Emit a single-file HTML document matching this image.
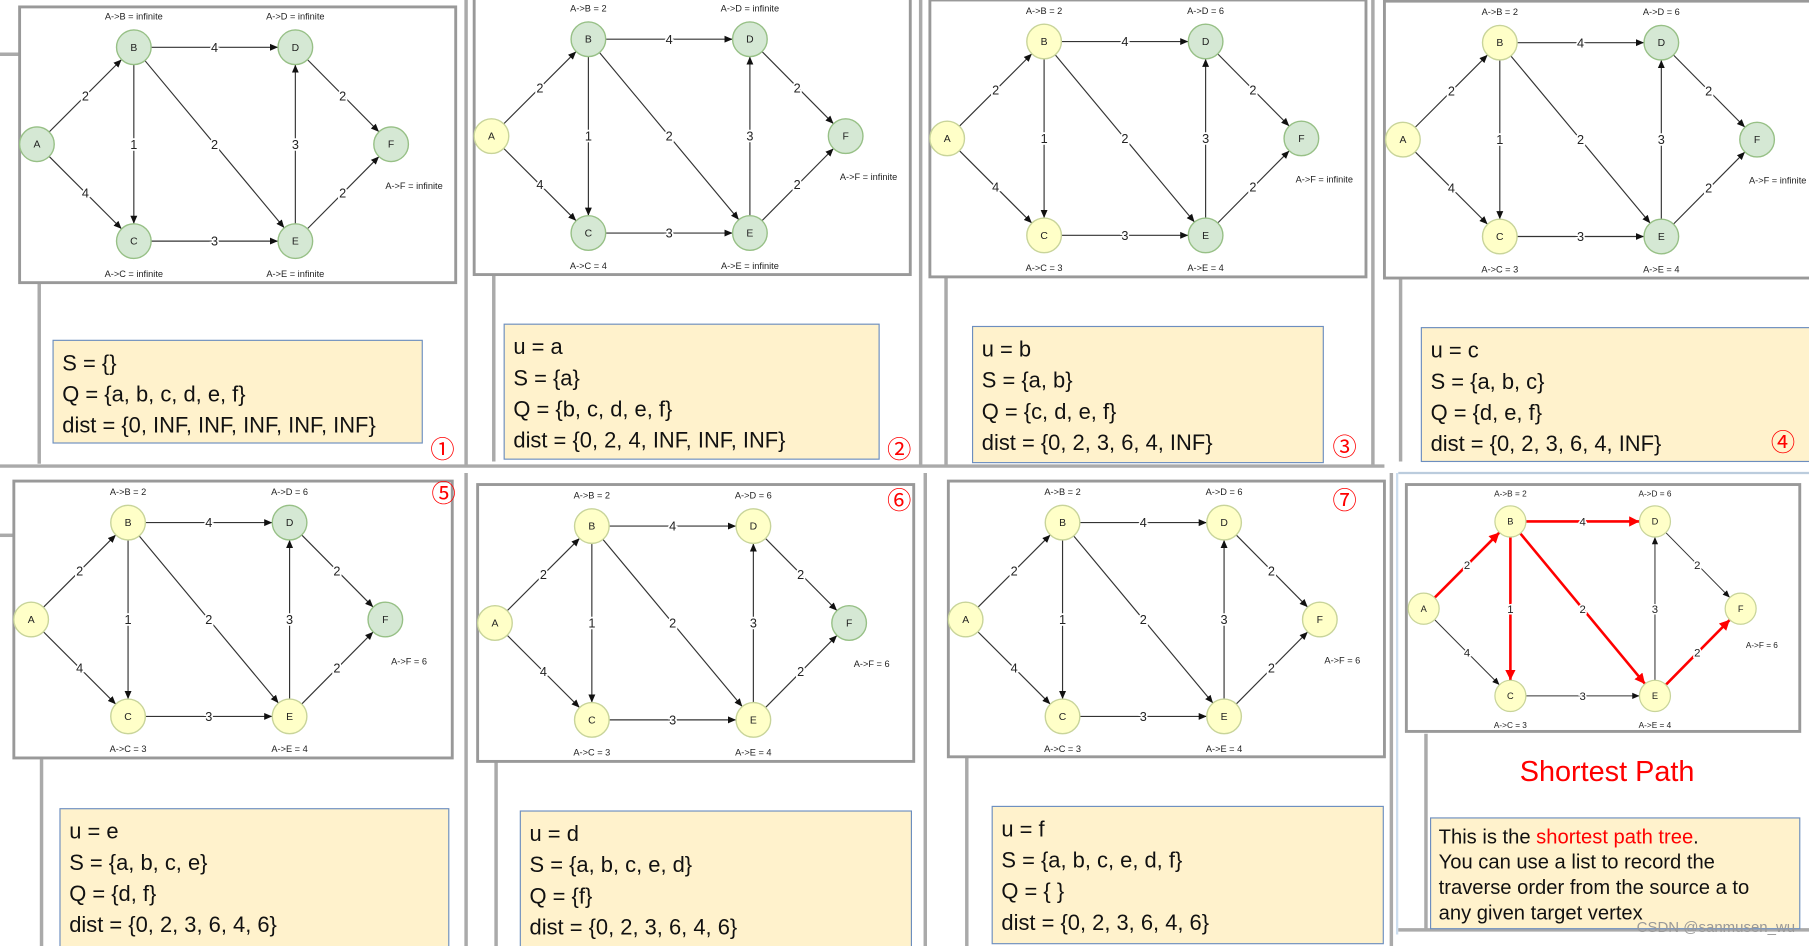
<!DOCTYPE html>
<html><head><meta charset="utf-8"><style>
html,body{margin:0;padding:0;background:#fff;width:1809px;height:946px;overflow:hidden}
svg{display:block}
.e{stroke:#333;stroke-width:1;marker-end:url(#ak)}
.r{stroke:#f00;stroke-width:2.5;marker-end:url(#ar)}
.w{font:11px "Liberation Sans",sans-serif;text-anchor:middle;fill:#222;paint-order:stroke;stroke:#fff;stroke-width:3}
.n{font:9px "Liberation Sans",sans-serif;text-anchor:middle;fill:#222}
.l{font:8px "Liberation Sans",sans-serif;text-anchor:middle;fill:#222}
.lf{font:8px "Liberation Sans",sans-serif;fill:#222}
.g{fill:#d5e8d4;stroke:#97c086;stroke-width:1.2}
.y{fill:#ffffc8;stroke:#c8d49a;stroke-width:1.2}
.box{fill:#fff;stroke:#999;stroke-width:2.5}
.tb{fill:#fff2cc;stroke:#6c8ebf;stroke-width:1}
.t{font:19px "Liberation Sans",sans-serif;fill:#111}
.c{font:21px "Liberation Sans","Noto Sans CJK JP",sans-serif;fill:#f00}
.sep{stroke:#aaa;stroke-width:3}
</style></head><body>
<svg width="1809" height="946" viewBox="0 0 1568 820" preserveAspectRatio="none">
<defs>
<marker id="ak" markerWidth="8" markerHeight="8" refX="7" refY="4" orient="auto" markerUnits="userSpaceOnUse"><path d="M0,1 L7,4 L0,7 Z" fill="#111"/></marker>
<marker id="ar" markerWidth="12" markerHeight="12" refX="10" refY="5" orient="auto" markerUnits="userSpaceOnUse"><path d="M0,0 L10,5 L0,10 Z" fill="#f00"/></marker>
</defs>
<!-- separators / frames -->
<line class="sep" x1="0" y1="47" x2="17" y2="47"/>
<line class="sep" x1="34" y1="245" x2="34" y2="402"/>
<line class="sep" x1="0" y1="404" x2="1200" y2="404"/>
<line class="sep" x1="404" y1="0" x2="404" y2="404"/>
<line class="sep" x1="428" y1="238" x2="428" y2="400"/>
<line class="sep" x1="798" y1="0" x2="798" y2="404"/>
<line class="sep" x1="820" y1="240" x2="820" y2="404"/>
<line class="sep" x1="1190" y1="0" x2="1190" y2="404"/>
<line class="sep" x1="1214" y1="242" x2="1214" y2="400"/>
<line class="sep" x1="0" y1="464" x2="12" y2="464"/>
<line class="sep" x1="36" y1="658" x2="36" y2="820"/>
<line class="sep" x1="404" y1="410" x2="404" y2="820"/>
<line class="sep" x1="430" y1="660" x2="430" y2="820"/>
<line class="sep" x1="802" y1="410" x2="802" y2="820"/>
<line class="sep" x1="838" y1="656" x2="838" y2="820"/>
<line class="sep" x1="1206" y1="410" x2="1206" y2="820"/>
<line x1="1212" y1="410" x2="1568" y2="410" stroke="#bcd" stroke-width="2"/>
<line x1="1211" y1="410" x2="1211" y2="810" stroke="#cde" stroke-width="2"/>
<line class="sep" x1="1236" y1="636" x2="1236" y2="806"/>
<line class="sep" x1="1212" y1="806" x2="1568" y2="806" stroke-width="2"/>

<!-- graph boxes -->
<rect class="box" x="17" y="6" width="378" height="239"/>
<rect class="box" x="411" y="-2" width="378" height="240"/>
<rect class="box" x="806" y="0" width="378" height="240"/>
<rect class="box" x="1200" y="1" width="370" height="240"/>
<rect class="box" x="12" y="417" width="380" height="240"/>
<rect class="box" x="414" y="420" width="378" height="240"/>
<rect class="box" x="822" y="417" width="378" height="239"/>
<rect class="box" x="1219" y="420" width="341" height="214"/>

<!-- text boxes -->
<rect class="tb" x="46" y="295" width="320" height="89"/>
<text class="t" x="54" y="321">S = {}</text>
<text class="t" x="54" y="348">Q = {a, b, c, d, e, f}</text>
<text class="t" x="54" y="375">dist = {0, INF, INF, INF, INF, INF}</text>
<text class="c" x="373" y="397">①</text>

<rect class="tb" x="437" y="281" width="325" height="117"/>
<text class="t" x="445" y="307">u = a</text>
<text class="t" x="445" y="334">S = {a}</text>
<text class="t" x="445" y="361">Q = {b, c, d, e, f}</text>
<text class="t" x="445" y="388">dist = {0, 2, 4, INF, INF, INF}</text>
<text class="c" x="769" y="397">②</text>

<rect class="tb" x="843" y="283" width="304" height="118"/>
<text class="t" x="851" y="309">u = b</text>
<text class="t" x="851" y="336">S = {a, b}</text>
<text class="t" x="851" y="363">Q = {c, d, e, f}</text>
<text class="t" x="851" y="390">dist = {0, 2, 3, 6, 4, INF}</text>
<text class="c" x="1155" y="395">③</text>

<rect class="tb" x="1232" y="284" width="340" height="116"/>
<text class="t" x="1240" y="310">u = c</text>
<text class="t" x="1240" y="337">S = {a, b, c}</text>
<text class="t" x="1240" y="364">Q = {d, e, f}</text>
<text class="t" x="1240" y="391">dist = {0, 2, 3, 6, 4, INF}</text>
<text class="c" x="1535" y="391">④</text>

<rect class="tb" x="52" y="701" width="337" height="122"/>
<text class="t" x="60" y="727">u = e</text>
<text class="t" x="60" y="754">S = {a, b, c, e}</text>
<text class="t" x="60" y="781">Q = {d, f}</text>
<text class="t" x="60" y="808">dist = {0, 2, 3, 6, 4, 6}</text>
<text class="c" x="374" y="435">⑤</text>

<rect class="tb" x="451" y="703" width="339" height="120"/>
<text class="t" x="459" y="729">u = d</text>
<text class="t" x="459" y="756">S = {a, b, c, e, d}</text>
<text class="t" x="459" y="783">Q = {f}</text>
<text class="t" x="459" y="810">dist = {0, 2, 3, 6, 4, 6}</text>
<text class="c" x="769" y="441">⑥</text>

<rect class="tb" x="860" y="699" width="339" height="119"/>
<text class="t" x="868" y="725">u = f</text>
<text class="t" x="868" y="752">S = {a, b, c, e, d, f}</text>
<text class="t" x="868" y="779">Q = { }</text>
<text class="t" x="868" y="806">dist = {0, 2, 3, 6, 4, 6}</text>
<text class="c" x="1155" y="441">⑦</text>

<text x="1393" y="677" text-anchor="middle" style="font:25px 'Liberation Sans',sans-serif;fill:#f00">Shortest Path</text>
<rect class="tb" x="1240" y="709" width="320" height="96"/>
<text x="1247" y="731" style="font:17.5px 'Liberation Sans',sans-serif;fill:#111">This is the <tspan fill="#f00">shortest path tree</tspan>.</text>
<text x="1247" y="753" style="font:17.5px 'Liberation Sans',sans-serif;fill:#111">You can use a list to record the</text>
<text x="1247" y="775" style="font:17.5px 'Liberation Sans',sans-serif;fill:#111">traverse order from the source a to</text>
<text x="1247" y="797" style="font:17.5px 'Liberation Sans',sans-serif;fill:#111">any given target vertex</text>
<text x="1556" y="808" text-anchor="end" style="font:13px 'Liberation Sans',sans-serif;fill:#999">CSDN @sanmusen_wu</text>

<!-- Graph 1 -->
<g transform="translate(32,41)">
<line class="e" x1="10.6" y1="73.4" x2="73.4" y2="10.6"/><line class="e" x1="10.6" y1="94.6" x2="73.4" y2="157.4"/><line class="e" x1="99" y1="0" x2="209" y2="0"/><line class="e" x1="84" y1="15" x2="84" y2="153"/><line class="e" x1="93.6" y1="11.5" x2="214.4" y2="156.5"/><line class="e" x1="99" y1="168" x2="209" y2="168"/><line class="e" x1="224" y1="153" x2="224" y2="15"/><line class="e" x1="234.5" y1="10.7" x2="296.5" y2="73.3"/><line class="e" x1="234.5" y1="157.3" x2="296.5" y2="94.7"/>
<text class="w" x="42" y="46">2</text><text class="w" x="42" y="130">4</text><text class="w" x="154" y="4">4</text><text class="w" x="84" y="88">1</text><text class="w" x="154" y="88">2</text><text class="w" x="154" y="172">3</text><text class="w" x="224" y="88">3</text><text class="w" x="265" y="46">2</text><text class="w" x="265" y="130">2</text>
<circle class="g" cx="0" cy="84" r="15"/><circle class="g" cx="84" cy="0" r="15"/><circle class="g" cx="224" cy="0" r="15"/><circle class="g" cx="307" cy="84" r="15"/><circle class="g" cx="84" cy="168" r="15"/><circle class="g" cx="224" cy="168" r="15"/>
<text class="n" x="0" y="87">A</text><text class="n" x="84" y="3">B</text><text class="n" x="224" y="3">D</text><text class="n" x="307" y="87">F</text><text class="n" x="84" y="171">C</text><text class="n" x="224" y="171">E</text>
<text class="l" x="84" y="-24">A-&gt;B = infinite</text><text class="l" x="224" y="-24">A-&gt;D = infinite</text><text class="l" x="84" y="199">A-&gt;C = infinite</text><text class="l" x="224" y="199">A-&gt;E = infinite</text><text class="lf" x="302" y="123">A-&gt;F = infinite</text>
</g>

<!-- Graph 2 -->
<g transform="translate(426,34)">
<line class="e" x1="10.6" y1="73.4" x2="73.4" y2="10.6"/><line class="e" x1="10.6" y1="94.6" x2="73.4" y2="157.4"/><line class="e" x1="99" y1="0" x2="209" y2="0"/><line class="e" x1="84" y1="15" x2="84" y2="153"/><line class="e" x1="93.6" y1="11.5" x2="214.4" y2="156.5"/><line class="e" x1="99" y1="168" x2="209" y2="168"/><line class="e" x1="224" y1="153" x2="224" y2="15"/><line class="e" x1="234.5" y1="10.7" x2="296.5" y2="73.3"/><line class="e" x1="234.5" y1="157.3" x2="296.5" y2="94.7"/>
<text class="w" x="42" y="46">2</text><text class="w" x="42" y="130">4</text><text class="w" x="154" y="4">4</text><text class="w" x="84" y="88">1</text><text class="w" x="154" y="88">2</text><text class="w" x="154" y="172">3</text><text class="w" x="224" y="88">3</text><text class="w" x="265" y="46">2</text><text class="w" x="265" y="130">2</text>
<circle class="y" cx="0" cy="84" r="15"/><circle class="g" cx="84" cy="0" r="15"/><circle class="g" cx="224" cy="0" r="15"/><circle class="g" cx="307" cy="84" r="15"/><circle class="g" cx="84" cy="168" r="15"/><circle class="g" cx="224" cy="168" r="15"/>
<text class="n" x="0" y="87">A</text><text class="n" x="84" y="3">B</text><text class="n" x="224" y="3">D</text><text class="n" x="307" y="87">F</text><text class="n" x="84" y="171">C</text><text class="n" x="224" y="171">E</text>
<text class="l" x="84" y="-24">A-&gt;B = 2</text><text class="l" x="224" y="-24">A-&gt;D = infinite</text><text class="l" x="84" y="199">A-&gt;C = 4</text><text class="l" x="224" y="199">A-&gt;E = infinite</text><text class="lf" x="302" y="122">A-&gt;F = infinite</text>
</g>

<!-- Graph 3 -->
<g transform="translate(821,36)">
<line class="e" x1="10.6" y1="73.4" x2="73.4" y2="10.6"/><line class="e" x1="10.6" y1="94.6" x2="73.4" y2="157.4"/><line class="e" x1="99" y1="0" x2="209" y2="0"/><line class="e" x1="84" y1="15" x2="84" y2="153"/><line class="e" x1="93.6" y1="11.5" x2="214.4" y2="156.5"/><line class="e" x1="99" y1="168" x2="209" y2="168"/><line class="e" x1="224" y1="153" x2="224" y2="15"/><line class="e" x1="234.5" y1="10.7" x2="296.5" y2="73.3"/><line class="e" x1="234.5" y1="157.3" x2="296.5" y2="94.7"/>
<text class="w" x="42" y="46">2</text><text class="w" x="42" y="130">4</text><text class="w" x="154" y="4">4</text><text class="w" x="84" y="88">1</text><text class="w" x="154" y="88">2</text><text class="w" x="154" y="172">3</text><text class="w" x="224" y="88">3</text><text class="w" x="265" y="46">2</text><text class="w" x="265" y="130">2</text>
<circle class="y" cx="0" cy="84" r="15"/><circle class="y" cx="84" cy="0" r="15"/><circle class="g" cx="224" cy="0" r="15"/><circle class="g" cx="307" cy="84" r="15"/><circle class="y" cx="84" cy="168" r="15"/><circle class="g" cx="224" cy="168" r="15"/>
<text class="n" x="0" y="87">A</text><text class="n" x="84" y="3">B</text><text class="n" x="224" y="3">D</text><text class="n" x="307" y="87">F</text><text class="n" x="84" y="171">C</text><text class="n" x="224" y="171">E</text>
<text class="l" x="84" y="-24">A-&gt;B = 2</text><text class="l" x="224" y="-24">A-&gt;D = 6</text><text class="l" x="84" y="199">A-&gt;C = 3</text><text class="l" x="224" y="199">A-&gt;E = 4</text><text class="lf" x="302" y="122">A-&gt;F = infinite</text>
</g>

<!-- Graph 4 -->
<g transform="translate(1216,37)">
<line class="e" x1="10.6" y1="73.4" x2="73.4" y2="10.6"/><line class="e" x1="10.6" y1="94.6" x2="73.4" y2="157.4"/><line class="e" x1="99" y1="0" x2="209" y2="0"/><line class="e" x1="84" y1="15" x2="84" y2="153"/><line class="e" x1="93.6" y1="11.5" x2="214.4" y2="156.5"/><line class="e" x1="99" y1="168" x2="209" y2="168"/><line class="e" x1="224" y1="153" x2="224" y2="15"/><line class="e" x1="234.5" y1="10.7" x2="296.5" y2="73.3"/><line class="e" x1="234.5" y1="157.3" x2="296.5" y2="94.7"/>
<text class="w" x="42" y="46">2</text><text class="w" x="42" y="130">4</text><text class="w" x="154" y="4">4</text><text class="w" x="84" y="88">1</text><text class="w" x="154" y="88">2</text><text class="w" x="154" y="172">3</text><text class="w" x="224" y="88">3</text><text class="w" x="265" y="46">2</text><text class="w" x="265" y="130">2</text>
<circle class="y" cx="0" cy="84" r="15"/><circle class="y" cx="84" cy="0" r="15"/><circle class="g" cx="224" cy="0" r="15"/><circle class="g" cx="307" cy="84" r="15"/><circle class="y" cx="84" cy="168" r="15"/><circle class="g" cx="224" cy="168" r="15"/>
<text class="n" x="0" y="87">A</text><text class="n" x="84" y="3">B</text><text class="n" x="224" y="3">D</text><text class="n" x="307" y="87">F</text><text class="n" x="84" y="171">C</text><text class="n" x="224" y="171">E</text>
<text class="l" x="84" y="-24">A-&gt;B = 2</text><text class="l" x="224" y="-24">A-&gt;D = 6</text><text class="l" x="84" y="199">A-&gt;C = 3</text><text class="l" x="224" y="199">A-&gt;E = 4</text><text class="lf" x="300" y="122">A-&gt;F = infinite</text>
</g>

<!-- Graph 5 -->
<g transform="translate(27,453)">
<line class="e" x1="10.6" y1="73.4" x2="73.4" y2="10.6"/><line class="e" x1="10.6" y1="94.6" x2="73.4" y2="157.4"/><line class="e" x1="99" y1="0" x2="209" y2="0"/><line class="e" x1="84" y1="15" x2="84" y2="153"/><line class="e" x1="93.6" y1="11.5" x2="214.4" y2="156.5"/><line class="e" x1="99" y1="168" x2="209" y2="168"/><line class="e" x1="224" y1="153" x2="224" y2="15"/><line class="e" x1="234.5" y1="10.7" x2="296.5" y2="73.3"/><line class="e" x1="234.5" y1="157.3" x2="296.5" y2="94.7"/>
<text class="w" x="42" y="46">2</text><text class="w" x="42" y="130">4</text><text class="w" x="154" y="4">4</text><text class="w" x="84" y="88">1</text><text class="w" x="154" y="88">2</text><text class="w" x="154" y="172">3</text><text class="w" x="224" y="88">3</text><text class="w" x="265" y="46">2</text><text class="w" x="265" y="130">2</text>
<circle class="y" cx="0" cy="84" r="15"/><circle class="y" cx="84" cy="0" r="15"/><circle class="g" cx="224" cy="0" r="15"/><circle class="g" cx="307" cy="84" r="15"/><circle class="y" cx="84" cy="168" r="15"/><circle class="y" cx="224" cy="168" r="15"/>
<text class="n" x="0" y="87">A</text><text class="n" x="84" y="3">B</text><text class="n" x="224" y="3">D</text><text class="n" x="307" y="87">F</text><text class="n" x="84" y="171">C</text><text class="n" x="224" y="171">E</text>
<text class="l" x="84" y="-24">A-&gt;B = 2</text><text class="l" x="224" y="-24">A-&gt;D = 6</text><text class="l" x="84" y="199">A-&gt;C = 3</text><text class="l" x="224" y="199">A-&gt;E = 4</text><text class="lf" x="312" y="123">A-&gt;F = 6</text>
</g>

<!-- Graph 6 -->
<g transform="translate(429,456)">
<line class="e" x1="10.6" y1="73.4" x2="73.4" y2="10.6"/><line class="e" x1="10.6" y1="94.6" x2="73.4" y2="157.4"/><line class="e" x1="99" y1="0" x2="209" y2="0"/><line class="e" x1="84" y1="15" x2="84" y2="153"/><line class="e" x1="93.6" y1="11.5" x2="214.4" y2="156.5"/><line class="e" x1="99" y1="168" x2="209" y2="168"/><line class="e" x1="224" y1="153" x2="224" y2="15"/><line class="e" x1="234.5" y1="10.7" x2="296.5" y2="73.3"/><line class="e" x1="234.5" y1="157.3" x2="296.5" y2="94.7"/>
<text class="w" x="42" y="46">2</text><text class="w" x="42" y="130">4</text><text class="w" x="154" y="4">4</text><text class="w" x="84" y="88">1</text><text class="w" x="154" y="88">2</text><text class="w" x="154" y="172">3</text><text class="w" x="224" y="88">3</text><text class="w" x="265" y="46">2</text><text class="w" x="265" y="130">2</text>
<circle class="y" cx="0" cy="84" r="15"/><circle class="y" cx="84" cy="0" r="15"/><circle class="y" cx="224" cy="0" r="15"/><circle class="g" cx="307" cy="84" r="15"/><circle class="y" cx="84" cy="168" r="15"/><circle class="y" cx="224" cy="168" r="15"/>
<text class="n" x="0" y="87">A</text><text class="n" x="84" y="3">B</text><text class="n" x="224" y="3">D</text><text class="n" x="307" y="87">F</text><text class="n" x="84" y="171">C</text><text class="n" x="224" y="171">E</text>
<text class="l" x="84" y="-24">A-&gt;B = 2</text><text class="l" x="224" y="-24">A-&gt;D = 6</text><text class="l" x="84" y="199">A-&gt;C = 3</text><text class="l" x="224" y="199">A-&gt;E = 4</text><text class="lf" x="311" y="122">A-&gt;F = 6</text>
</g>

<!-- Graph 7 -->
<g transform="translate(837,453)">
<line class="e" x1="10.6" y1="73.4" x2="73.4" y2="10.6"/><line class="e" x1="10.6" y1="94.6" x2="73.4" y2="157.4"/><line class="e" x1="99" y1="0" x2="209" y2="0"/><line class="e" x1="84" y1="15" x2="84" y2="153"/><line class="e" x1="93.6" y1="11.5" x2="214.4" y2="156.5"/><line class="e" x1="99" y1="168" x2="209" y2="168"/><line class="e" x1="224" y1="153" x2="224" y2="15"/><line class="e" x1="234.5" y1="10.7" x2="296.5" y2="73.3"/><line class="e" x1="234.5" y1="157.3" x2="296.5" y2="94.7"/>
<text class="w" x="42" y="46">2</text><text class="w" x="42" y="130">4</text><text class="w" x="154" y="4">4</text><text class="w" x="84" y="88">1</text><text class="w" x="154" y="88">2</text><text class="w" x="154" y="172">3</text><text class="w" x="224" y="88">3</text><text class="w" x="265" y="46">2</text><text class="w" x="265" y="130">2</text>
<circle class="y" cx="0" cy="84" r="15"/><circle class="y" cx="84" cy="0" r="15"/><circle class="y" cx="224" cy="0" r="15"/><circle class="y" cx="307" cy="84" r="15"/><circle class="y" cx="84" cy="168" r="15"/><circle class="y" cx="224" cy="168" r="15"/>
<text class="n" x="0" y="87">A</text><text class="n" x="84" y="3">B</text><text class="n" x="224" y="3">D</text><text class="n" x="307" y="87">F</text><text class="n" x="84" y="171">C</text><text class="n" x="224" y="171">E</text>
<text class="l" x="84" y="-24">A-&gt;B = 2</text><text class="l" x="224" y="-24">A-&gt;D = 6</text><text class="l" x="84" y="199">A-&gt;C = 3</text><text class="l" x="224" y="199">A-&gt;E = 4</text><text class="lf" x="311" y="122">A-&gt;F = 6</text>
</g>

<!-- Graph 8 -->
<g transform="translate(1234,452) scale(0.895,0.9)">
<line class="r" x1="10.6" y1="73.4" x2="73.4" y2="10.6"/><line class="e" x1="10.6" y1="94.6" x2="73.4" y2="157.4"/><line class="r" x1="99" y1="0" x2="209" y2="0"/><line class="r" x1="84" y1="15" x2="84" y2="153"/><line class="r" x1="93.6" y1="11.5" x2="214.4" y2="156.5"/><line class="e" x1="99" y1="168" x2="209" y2="168"/><line class="e" x1="224" y1="153" x2="224" y2="15"/><line class="e" x1="234.5" y1="10.7" x2="296.5" y2="73.3"/><line class="r" x1="234.5" y1="157.3" x2="296.5" y2="94.7"/>
<text class="w" x="42" y="46">2</text><text class="w" x="42" y="130">4</text><text class="w" x="154" y="4">4</text><text class="w" x="84" y="88">1</text><text class="w" x="154" y="88">2</text><text class="w" x="154" y="172">3</text><text class="w" x="224" y="88">3</text><text class="w" x="265" y="46">2</text><text class="w" x="265" y="130">2</text>
<circle class="y" cx="0" cy="84" r="15"/><circle class="y" cx="84" cy="0" r="15"/><circle class="y" cx="224" cy="0" r="15"/><circle class="y" cx="307" cy="84" r="15"/><circle class="y" cx="84" cy="168" r="15"/><circle class="y" cx="224" cy="168" r="15"/>
<text class="n" x="0" y="87">A</text><text class="n" x="84" y="3">B</text><text class="n" x="224" y="3">D</text><text class="n" x="307" y="87">F</text><text class="n" x="84" y="171">C</text><text class="n" x="224" y="171">E</text>
<text class="l" x="84" y="-24">A-&gt;B = 2</text><text class="l" x="224" y="-24">A-&gt;D = 6</text><text class="l" x="84" y="199">A-&gt;C = 3</text><text class="l" x="224" y="199">A-&gt;E = 4</text><text class="lf" x="312" y="122">A-&gt;F = 6</text>
</g>
</svg>
</body></html>
